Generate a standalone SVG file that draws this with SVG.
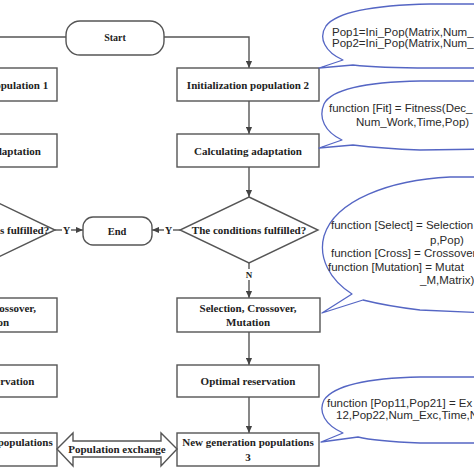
<svg xmlns="http://www.w3.org/2000/svg" width="474" height="474" viewBox="0 0 474 474">
<defs>
<style>
.box{fill:#fff;stroke:#555;stroke-width:1.4}
.ln{fill:none;stroke:#555;stroke-width:1.4}
.t{font-family:"Liberation Serif","Times New Roman",serif;font-weight:bold;font-size:11px;fill:#222;text-anchor:middle}
.c{fill:#fff;stroke:#5566c4;stroke-width:1.3;stroke-linejoin:round}
.ct{font-family:"Liberation Sans",Arial,sans-serif;font-size:11.5px;fill:#2a2a2a}
</style>
<marker id="ah" viewBox="0 0 8 8" refX="8" refY="4" markerWidth="7" markerHeight="7" markerUnits="userSpaceOnUse" orient="auto">
<path d="M0,0.5 L8,4 L0,7.5 Z" fill="#444"/>
</marker>
</defs>
<rect width="474" height="474" fill="#fff"/>

<g id="connectors">
<path class="ln" d="M66,37 H-14 V68" marker-end="url(#ah)"/>
<path class="ln" d="M164,37 H249 V68" marker-end="url(#ah)"/>
<path class="ln" d="M249,101 V134" marker-end="url(#ah)"/>
<path class="ln" d="M249,167 V197" marker-end="url(#ah)"/>
<path class="ln" d="M249,263 V269"/>
<path class="ln" d="M249,280 V298" marker-end="url(#ah)"/>
<text class="t" x="249" y="278" style="font-size:9px">N</text>
<path class="ln" d="M249,332 V365" marker-end="url(#ah)"/>
<path class="ln" d="M249,397 V433" marker-end="url(#ah)"/>
<path class="ln" d="M180,230 H173"/>
<path class="ln" d="M164,230 H152" marker-end="url(#ah)"/>
<text class="t" x="168.5" y="233.5" style="font-size:10px">Y</text>
<path class="ln" d="M55,230 H62"/>
<path class="ln" d="M71,230 H83" marker-end="url(#ah)"/>
<text class="t" x="66.5" y="233.5" style="font-size:10px">Y</text>
</g>

<g id="start">
<rect class="box" x="66" y="21" width="98" height="34" rx="14"/>
<text class="t" x="115" y="41" style="font-size:10px">Start</text>
</g>

<g id="init1">
<rect class="box" x="-85" y="68" width="142" height="33"/>
<text class="t" x="-13" y="89">Initialization population 1</text>
</g>
<g id="init2">
<rect class="box" x="177" y="68" width="142" height="33"/>
<text class="t" x="248" y="89">Initialization population 2</text>
</g>

<g id="calc1">
<rect class="box" x="-85" y="134" width="142" height="33"/>
<text class="t" x="-13" y="154.5">Calculating adaptation</text>
</g>
<g id="calc2">
<rect class="box" x="177" y="134" width="142" height="33"/>
<text class="t" x="248" y="154.5">Calculating adaptation</text>
</g>

<g id="cond1">
<polygon class="box" points="-14,197 55,230 -14,263 -83,230"/>
<text class="t" x="-8" y="234">The conditions fulfilled?</text>
</g>
<g id="cond2">
<polygon class="box" points="249,197 318,230 249,263 180,230"/>
<text class="t" x="249" y="234">The conditions fulfilled?</text>
</g>

<g id="end">
<rect class="box" x="83" y="217" width="69" height="28" rx="10"/>
<text class="t" x="117" y="235" style="font-size:10.5px">End</text>
</g>

<g id="sel1">
<rect class="box" x="-85" y="298" width="142" height="34"/>
<text class="t" x="-12.5" y="312">Selection, Crossover,</text>
<text class="t" x="-13" y="326">Mutation</text>
</g>
<g id="sel2">
<rect class="box" x="177" y="298" width="143" height="34"/>
<text class="t" x="248" y="312">Selection, Crossover,</text>
<text class="t" x="248" y="326">Mutation</text>
</g>

<g id="opt1">
<rect class="box" x="-85" y="365" width="142" height="32"/>
<text class="t" x="-13" y="385">Optimal reservation</text>
</g>
<g id="opt2">
<rect class="box" x="177" y="365" width="142" height="32"/>
<text class="t" x="248" y="385">Optimal reservation</text>
</g>

<g id="newgen1">
<rect class="box" x="-85" y="433" width="142" height="33"/>
<text class="t" x="-13" y="446">New generation populations</text>
</g>
<g id="newgen2">
<rect class="box" x="177" y="433" width="142" height="33"/>
<text class="t" x="248" y="446">New generation populations</text>
<text class="t" x="248" y="461">3</text>
</g>

<g id="exchange">
<polygon class="box" points="57,449 73,433 73,441 161,441 161,433 177,449 161,466 161,457 73,457 73,466"/>
<text class="t" x="117" y="453">Population exchange</text>
</g>

<g id="callout1">
<path class="c" d="M343,60 C325,52 318,38 326,26 C338,10 380,5 430,4 L490,4 L490,68 L430,68 C400,68 370,67 353,65 L319,68 Z"/>
<text class="ct" x="332" y="36">Pop1=Ini_Pop(Matrix,Num_</text>
<text class="ct" x="332" y="47">Pop2=Ini_Pop(Matrix,Num_</text>
</g>
<g id="callout2">
<path class="c" d="M342,140 C325,132 318,118 324,104 C332,88 370,82 420,81 L490,81 L490,149 L420,150 C395,149 370,147 353,145 L319,148 Z"/>
<text class="ct" x="329" y="112">function [Fit] = Fitness(Dec_</text>
<text class="ct" x="356" y="126">Num_Work,Time,Pop)</text>
</g>
<g id="callout3">
<path class="c" d="M352,294 C330,280 318,258 324,236 C335,200 390,180 450,177 L490,177 L490,313 L420,310 C395,307 375,303 363,300 L322,313 Z"/>
<text class="ct" x="331" y="229">function [Select] = Selection</text>
<text class="ct" x="430" y="244">p,Pop)</text>
<text class="ct" x="331" y="257">function [Cross] = Crossover</text>
<text class="ct" x="328" y="271">function [Mutation] = Mutat</text>
<text class="ct" x="420" y="284">_M,Matrix)</text>
</g>
<g id="callout4">
<path class="c" d="M343,433 C325,425 318,412 324,400 C335,384 370,378 420,377 L490,377 L490,443 L420,443 C395,442 370,440 358,437 L321,442 Z"/>
<text class="ct" x="327" y="407">function [Pop11,Pop21] = Ex</text>
<text class="ct" x="336" y="419">12,Pop22,Num_Exc,Time,N</text>
</g>
</svg>
